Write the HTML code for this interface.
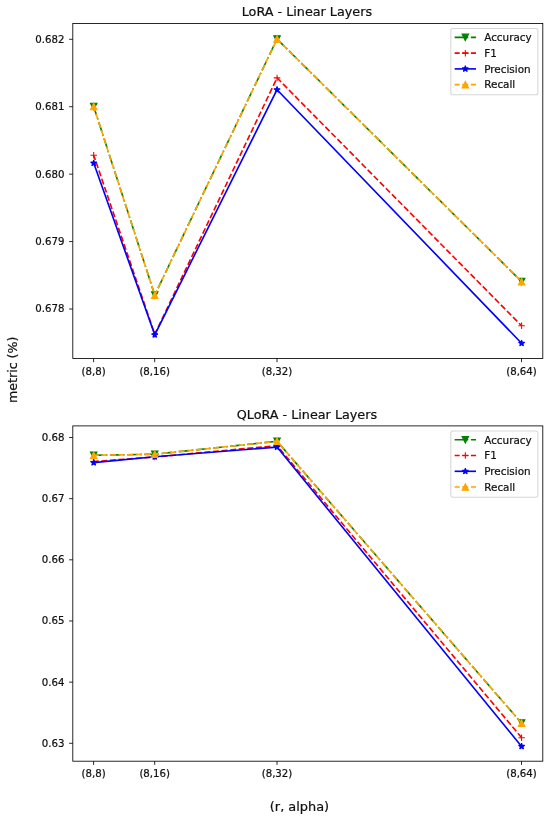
<!DOCTYPE html>
<html lang="en"><head><meta charset="utf-8"><title>LoRA vs QLoRA - Linear Layers</title>
<style>text{stroke:#111;stroke-width:.22px;stroke-linejoin:round}html,body{margin:0;padding:0;background:#fff}body{width:550px;height:819px;overflow:hidden}svg{display:block}</style>
</head><body>
<svg width="550" height="819" viewBox="0 0 550 819" font-family='"DejaVu Sans","Liberation Sans",sans-serif' fill="#111" >
<rect width="550" height="819" fill="#fff"/>
<g>
<path d="M93.6,358.5v3.69M154.7,358.5v3.69M277,358.5v3.69M521.5,358.5v3.69M72.8,39.3h-3.69M72.8,106.73h-3.69M72.8,174.15h-3.69M72.8,241.58h-3.69M72.8,309h-3.69" stroke="#000" stroke-width="0.84" fill="none"/>
<g font-size="10.2" text-anchor="middle">
<text x="93.6" y="374.7">(8,8)</text>
<text x="154.7" y="374.7">(8,16)</text>
<text x="277" y="374.7">(8,32)</text>
<text x="521.5" y="374.7">(8,64)</text>
</g>
<g font-size="10.2" text-anchor="end">
<text x="64.5" y="42.7">0.682</text>
<text x="64.5" y="110.13">0.681</text>
<text x="64.5" y="177.55">0.680</text>
<text x="64.5" y="244.98">0.679</text>
<text x="64.5" y="312.4">0.678</text>
</g>
<polyline points="93.7,106.5 154.75,295.1 277.05,39 521.6,281.6" fill="none" stroke="#008000" stroke-width="1.63" stroke-linejoin="round" stroke-dasharray="10.41,2.6,1.63,2.6" stroke-dashoffset="1"/>
<path d="M93.7,109.75L90.45,103.25L96.95,103.25Z" fill="#008000" stroke="#008000" stroke-width="1.08" stroke-linejoin="miter"/>
<path d="M154.75,298.35L151.5,291.85L158,291.85Z" fill="#008000" stroke="#008000" stroke-width="1.08" stroke-linejoin="miter"/>
<path d="M277.05,42.25L273.8,35.75L280.3,35.75Z" fill="#008000" stroke="#008000" stroke-width="1.08" stroke-linejoin="miter"/>
<path d="M521.6,284.85L518.35,278.35L524.85,278.35Z" fill="#008000" stroke="#008000" stroke-width="1.08" stroke-linejoin="miter"/>
<polyline points="93.7,155.2 154.75,334.3 277.05,77.9 521.6,325.8" fill="none" stroke="#ff0000" stroke-width="1.63" stroke-linejoin="round" stroke-dasharray="6.02,2.6" stroke-dashoffset="1"/>
<path d="M90.45,155.2H96.95M93.7,151.95V158.45" fill="none" stroke="#ff0000" stroke-width="1.08"/>
<path d="M151.5,334.3H158M154.75,331.05V337.55" fill="none" stroke="#ff0000" stroke-width="1.08"/>
<path d="M273.8,77.9H280.3M277.05,74.65V81.15" fill="none" stroke="#ff0000" stroke-width="1.08"/>
<path d="M518.35,325.8H524.85M521.6,322.55V329.05" fill="none" stroke="#ff0000" stroke-width="1.08"/>
<polyline points="93.7,163.1 154.75,334.8 277.05,89.7 521.6,343.3" fill="none" stroke="#0000ff" stroke-width="1.63" stroke-linejoin="round"/>
<path d="M93.7,159.85L94.43,162.1L96.79,162.1L94.88,163.48L95.61,165.73L93.7,164.34L91.79,165.73L92.52,163.48L90.61,162.1L92.97,162.1Z" fill="#0000ff" stroke="#0000ff" stroke-width="1.08" stroke-linejoin="bevel"/>
<path d="M154.75,331.55L155.48,333.8L157.84,333.8L155.93,335.18L156.66,337.43L154.75,336.04L152.84,337.43L153.57,335.18L151.66,333.8L154.02,333.8Z" fill="#0000ff" stroke="#0000ff" stroke-width="1.08" stroke-linejoin="bevel"/>
<path d="M277.05,86.45L277.78,88.7L280.14,88.7L278.23,90.08L278.96,92.33L277.05,90.94L275.14,92.33L275.87,90.08L273.96,88.7L276.32,88.7Z" fill="#0000ff" stroke="#0000ff" stroke-width="1.08" stroke-linejoin="bevel"/>
<path d="M521.6,340.05L522.33,342.3L524.69,342.3L522.78,343.68L523.51,345.93L521.6,344.54L519.69,345.93L520.42,343.68L518.51,342.3L520.87,342.3Z" fill="#0000ff" stroke="#0000ff" stroke-width="1.08" stroke-linejoin="bevel"/>
<polyline points="93.7,106.5 154.75,295.1 277.05,39 521.6,281.6" fill="none" stroke="#ffa500" stroke-width="1.63" stroke-linejoin="round" stroke-dasharray="6.02,2.6" stroke-dashoffset="1"/>
<path d="M93.7,103.25L90.45,109.75L96.95,109.75Z" fill="#ffa500" stroke="#ffa500" stroke-width="1.08" stroke-linejoin="miter"/>
<path d="M154.75,291.85L151.5,298.35L158,298.35Z" fill="#ffa500" stroke="#ffa500" stroke-width="1.08" stroke-linejoin="miter"/>
<path d="M277.05,35.75L273.8,42.25L280.3,42.25Z" fill="#ffa500" stroke="#ffa500" stroke-width="1.08" stroke-linejoin="miter"/>
<path d="M521.6,278.35L518.35,284.85L524.85,284.85Z" fill="#ffa500" stroke="#ffa500" stroke-width="1.08" stroke-linejoin="miter"/>
<rect x="72.8" y="23.5" width="470" height="335" fill="none" stroke="#000" stroke-width="0.84"/>
<text x="306.9" y="16.25" font-size="12.75" text-anchor="middle">LoRA - Linear Layers</text>
<rect x="450.84" y="28.5" width="87.06" height="66.3" rx="2.1" fill="#fff" fill-opacity="0.8" stroke="#ccc" stroke-opacity="0.8" stroke-width="1.05"/>
<polyline points="454.64,37.4 476.04,37.4" fill="none" stroke="#008000" stroke-width="1.63" stroke-linejoin="round" stroke-dasharray="10.41,2.6,1.63,2.6" stroke-dashoffset="1"/>
<path d="M465.34,40.65L462.08,34.15L468.59,34.15Z" fill="#008000" stroke="#008000" stroke-width="1.08" stroke-linejoin="miter"/>
<text x="484.24" y="41.1" font-size="10.4">Accuracy</text>
<polyline points="454.64,53.15 476.04,53.15" fill="none" stroke="#ff0000" stroke-width="1.63" stroke-linejoin="round" stroke-dasharray="6.02,2.6" stroke-dashoffset="1"/>
<path d="M462.08,53.15H468.59M465.34,49.9V56.4" fill="none" stroke="#ff0000" stroke-width="1.08"/>
<text x="484.24" y="56.85" font-size="10.4">F1</text>
<polyline points="454.64,68.9 476.04,68.9" fill="none" stroke="#0000ff" stroke-width="1.63" stroke-linejoin="round"/>
<path d="M465.34,65.65L466.07,67.9L468.43,67.9L466.52,69.28L467.25,71.53L465.34,70.14L463.42,71.53L464.15,69.28L462.24,67.9L464.61,67.9Z" fill="#0000ff" stroke="#0000ff" stroke-width="1.08" stroke-linejoin="bevel"/>
<text x="484.24" y="72.6" font-size="10.4">Precision</text>
<polyline points="454.64,84.65 476.04,84.65" fill="none" stroke="#ffa500" stroke-width="1.63" stroke-linejoin="round" stroke-dasharray="6.02,2.6" stroke-dashoffset="1"/>
<path d="M465.34,81.4L462.08,87.9L468.59,87.9Z" fill="#ffa500" stroke="#ffa500" stroke-width="1.08" stroke-linejoin="miter"/>
<text x="484.24" y="88.35" font-size="10.4">Recall</text>
</g>
<g>
<path d="M93.6,761.2v3.69M154.7,761.2v3.69M277,761.2v3.69M521.5,761.2v3.69M72.8,437.5h-3.69M72.8,498.66h-3.69M72.8,559.82h-3.69M72.8,620.98h-3.69M72.8,682.14h-3.69M72.8,743.3h-3.69" stroke="#000" stroke-width="0.84" fill="none"/>
<g font-size="10.2" text-anchor="middle">
<text x="93.6" y="777.4">(8,8)</text>
<text x="154.7" y="777.4">(8,16)</text>
<text x="277" y="777.4">(8,32)</text>
<text x="521.5" y="777.4">(8,64)</text>
</g>
<g font-size="10.2" text-anchor="end">
<text x="64.5" y="440.9">0.68</text>
<text x="64.5" y="502.06">0.67</text>
<text x="64.5" y="563.22">0.66</text>
<text x="64.5" y="624.38">0.65</text>
<text x="64.5" y="685.54">0.64</text>
<text x="64.5" y="746.7">0.63</text>
</g>
<polyline points="93.7,455.3 154.75,454.2 277.05,441.3 521.6,723.1" fill="none" stroke="#008000" stroke-width="1.63" stroke-linejoin="round" stroke-dasharray="10.41,2.6,1.63,2.6" stroke-dashoffset="1"/>
<path d="M93.7,458.55L90.45,452.05L96.95,452.05Z" fill="#008000" stroke="#008000" stroke-width="1.08" stroke-linejoin="miter"/>
<path d="M154.75,457.45L151.5,450.95L158,450.95Z" fill="#008000" stroke="#008000" stroke-width="1.08" stroke-linejoin="miter"/>
<path d="M277.05,444.55L273.8,438.05L280.3,438.05Z" fill="#008000" stroke="#008000" stroke-width="1.08" stroke-linejoin="miter"/>
<path d="M521.6,726.35L518.35,719.85L524.85,719.85Z" fill="#008000" stroke="#008000" stroke-width="1.08" stroke-linejoin="miter"/>
<polyline points="93.7,461.5 154.75,457 277.05,445.6 521.6,737.7" fill="none" stroke="#ff0000" stroke-width="1.63" stroke-linejoin="round" stroke-dasharray="6.02,2.6" stroke-dashoffset="1"/>
<path d="M90.45,461.5H96.95M93.7,458.25V464.75" fill="none" stroke="#ff0000" stroke-width="1.08"/>
<path d="M151.5,457H158M154.75,453.75V460.25" fill="none" stroke="#ff0000" stroke-width="1.08"/>
<path d="M273.8,445.6H280.3M277.05,442.35V448.85" fill="none" stroke="#ff0000" stroke-width="1.08"/>
<path d="M518.35,737.7H524.85M521.6,734.45V740.95" fill="none" stroke="#ff0000" stroke-width="1.08"/>
<polyline points="93.7,462.6 154.75,456.8 277.05,447.1 521.6,746.4" fill="none" stroke="#0000ff" stroke-width="1.63" stroke-linejoin="round"/>
<path d="M93.7,459.35L94.43,461.6L96.79,461.6L94.88,462.98L95.61,465.23L93.7,463.84L91.79,465.23L92.52,462.98L90.61,461.6L92.97,461.6Z" fill="#0000ff" stroke="#0000ff" stroke-width="1.08" stroke-linejoin="bevel"/>
<path d="M154.75,453.55L155.48,455.8L157.84,455.8L155.93,457.18L156.66,459.43L154.75,458.04L152.84,459.43L153.57,457.18L151.66,455.8L154.02,455.8Z" fill="#0000ff" stroke="#0000ff" stroke-width="1.08" stroke-linejoin="bevel"/>
<path d="M277.05,443.85L277.78,446.1L280.14,446.1L278.23,447.48L278.96,449.73L277.05,448.34L275.14,449.73L275.87,447.48L273.96,446.1L276.32,446.1Z" fill="#0000ff" stroke="#0000ff" stroke-width="1.08" stroke-linejoin="bevel"/>
<path d="M521.6,743.15L522.33,745.4L524.69,745.4L522.78,746.78L523.51,749.03L521.6,747.64L519.69,749.03L520.42,746.78L518.51,745.4L520.87,745.4Z" fill="#0000ff" stroke="#0000ff" stroke-width="1.08" stroke-linejoin="bevel"/>
<polyline points="93.7,455.3 154.75,454.2 277.05,441.3 521.6,723.1" fill="none" stroke="#ffa500" stroke-width="1.63" stroke-linejoin="round" stroke-dasharray="6.02,2.6" stroke-dashoffset="1"/>
<path d="M93.7,452.05L90.45,458.55L96.95,458.55Z" fill="#ffa500" stroke="#ffa500" stroke-width="1.08" stroke-linejoin="miter"/>
<path d="M154.75,450.95L151.5,457.45L158,457.45Z" fill="#ffa500" stroke="#ffa500" stroke-width="1.08" stroke-linejoin="miter"/>
<path d="M277.05,438.05L273.8,444.55L280.3,444.55Z" fill="#ffa500" stroke="#ffa500" stroke-width="1.08" stroke-linejoin="miter"/>
<path d="M521.6,719.85L518.35,726.35L524.85,726.35Z" fill="#ffa500" stroke="#ffa500" stroke-width="1.08" stroke-linejoin="miter"/>
<rect x="72.8" y="425.9" width="470" height="335.3" fill="none" stroke="#000" stroke-width="0.84"/>
<text x="306.9" y="418.7" font-size="12.75" text-anchor="middle">QLoRA - Linear Layers</text>
<rect x="450.84" y="430.9" width="87.06" height="66.3" rx="2.1" fill="#fff" fill-opacity="0.8" stroke="#ccc" stroke-opacity="0.8" stroke-width="1.05"/>
<polyline points="454.64,439.8 476.04,439.8" fill="none" stroke="#008000" stroke-width="1.63" stroke-linejoin="round" stroke-dasharray="10.41,2.6,1.63,2.6" stroke-dashoffset="1"/>
<path d="M465.34,443.05L462.08,436.55L468.59,436.55Z" fill="#008000" stroke="#008000" stroke-width="1.08" stroke-linejoin="miter"/>
<text x="484.24" y="443.5" font-size="10.4">Accuracy</text>
<polyline points="454.64,455.55 476.04,455.55" fill="none" stroke="#ff0000" stroke-width="1.63" stroke-linejoin="round" stroke-dasharray="6.02,2.6" stroke-dashoffset="1"/>
<path d="M462.08,455.55H468.59M465.34,452.3V458.8" fill="none" stroke="#ff0000" stroke-width="1.08"/>
<text x="484.24" y="459.25" font-size="10.4">F1</text>
<polyline points="454.64,471.3 476.04,471.3" fill="none" stroke="#0000ff" stroke-width="1.63" stroke-linejoin="round"/>
<path d="M465.34,468.05L466.07,470.3L468.43,470.3L466.52,471.68L467.25,473.93L465.34,472.54L463.42,473.93L464.15,471.68L462.24,470.3L464.61,470.3Z" fill="#0000ff" stroke="#0000ff" stroke-width="1.08" stroke-linejoin="bevel"/>
<text x="484.24" y="475" font-size="10.4">Precision</text>
<polyline points="454.64,487.05 476.04,487.05" fill="none" stroke="#ffa500" stroke-width="1.63" stroke-linejoin="round" stroke-dasharray="6.02,2.6" stroke-dashoffset="1"/>
<path d="M465.34,483.8L462.08,490.3L468.59,490.3Z" fill="#ffa500" stroke="#ffa500" stroke-width="1.08" stroke-linejoin="miter"/>
<text x="484.24" y="490.75" font-size="10.4">Recall</text>
</g>
<text x="299.5" y="811.2" font-size="12.9" text-anchor="middle">(r, alpha)</text>
<text transform="translate(17.3,369.8) rotate(-90)" font-size="12.6" text-anchor="middle">metric (%)</text>
</svg>
</body></html>
